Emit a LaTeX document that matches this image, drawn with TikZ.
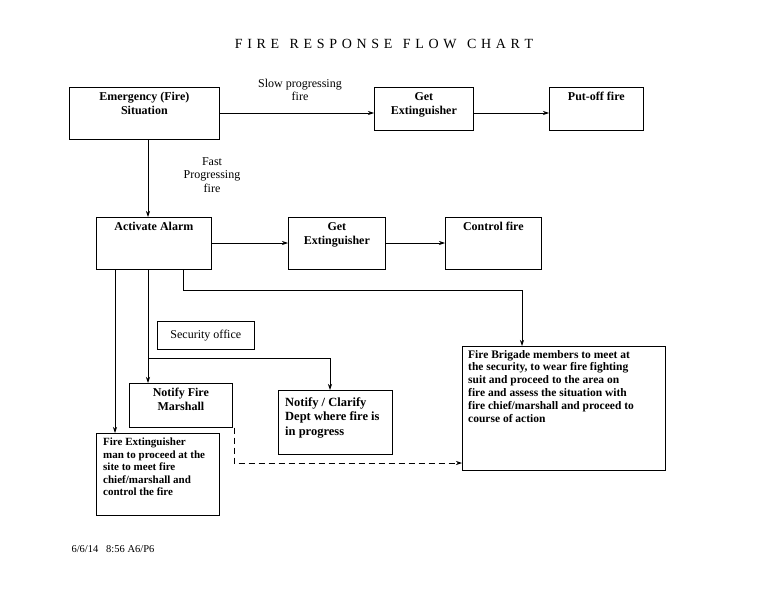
\documentclass[tikz,border=0pt]{standalone}
\usepackage{fontspec}
\setmainfont{Liberation Serif}
\usetikzlibrary{arrows.meta}
\begin{document}
\begin{tikzpicture}[x=1pt,y=-1pt,
  box/.style={draw,line width=0.7pt,anchor=north west,inner sep=0pt},
  txt/.style={font=\fontsize{12}{14}\selectfont\bfseries,align=center,anchor=north,inner sep=2pt},
  ltxt/.style={font=\fontsize{12}{14}\selectfont\bfseries,align=left,anchor=north west,inner sep=0pt},
  lab/.style={font=\fontsize{12}{13.5}\selectfont,align=center},
  arr/.style={-{Stealth[length=6pt,width=4pt]},line width=0.7pt}]
\useasboundingbox (0,0) rectangle (768,594);
\node[font=\fontsize{14}{16}\selectfont] (title) at (384,44) {F\,\,I\,\,R\,\,E\ \ \ R\,\,E\,\,S\,\,P\,\,O\,\,N\,\,S\,\,E\ \ \ F\,\,L\,\,O\,\,W\ \ \ C\,\,H\,\,A\,\,R\,\,T};
\node[box,minimum width=150pt,minimum height=52pt] (em) at (69,87) {};
\node[txt] (emt) at ([yshift=-3]em.north) {Emergency (Fire)\\Situation};
\node[box,minimum width=99pt,minimum height=43pt] (ge1) at (374,87) {};
\node[txt] (ge1t) at ([yshift=-3]ge1.north) {Get\\Extinguisher};
\node[box,minimum width=94pt,minimum height=43pt] (po) at (549,87) {};
\node[txt] (pot) at ([yshift=-3]po.north) {Put-off fire};
\node[box,minimum width=115pt,minimum height=52pt] (aa) at (96,217) {};
\node[txt] (aat) at ([yshift=-3]aa.north) {Activate Alarm};
\node[box,minimum width=97pt,minimum height=52pt] (ge2) at (288,217) {};
\node[txt] (ge2t) at ([yshift=-3]ge2.north) {Get\\Extinguisher};
\node[box,minimum width=96pt,minimum height=52pt] (cf) at (445,217) {};
\node[txt] (cft) at ([yshift=-3]cf.north) {Control fire};
\node[box,minimum width=97pt,minimum height=28pt] (so) at (157,321) {};
\node[lab] (sot) at (so.center) {Security office};
\node[box,minimum width=103pt,minimum height=44pt] (nm) at (129,383) {};
\node[txt] (nmt) at ([yshift=-3]nm.north) {Notify Fire\\Marshall};
\node[box,minimum width=114pt,minimum height=64pt] (nc) at (278,390) {};
\node[ltxt,font=\fontsize{12.5}{14.5}\selectfont\bfseries] (nct) at (285,397) {Notify / Clarify\\Dept where fire is\\in progress};
\node[box,minimum width=203pt,minimum height=124pt] (fb) at (462,346) {};
\node[ltxt,font=\fontsize{11.5}{12.8}\selectfont\bfseries] (fbt) at (468,350) {Fire Brigade members to meet at\\the security, to wear fire fighting\\suit and proceed to the area on\\fire and assess the situation with\\fire chief/marshall and proceed to\\course of action};
\node[box,minimum width=123pt,minimum height=82pt] (fe) at (96,433) {};
\node[ltxt,font=\fontsize{11}{12.5}\selectfont\bfseries] (fet) at (103,438) {Fire Extinguisher\\man to proceed at the\\site to meet fire\\chief/marshall and\\control the fire};
\node[font=\fontsize{10.5}{12}\selectfont,anchor=west] (foot) at (68,549) {6/6/14\ \ \ 8:56 A6/P6};
% connectors
\draw[arr] (em.east |- 0,113) -- (ge1.west |- 0,113);
\node[lab] (slow) at (300,90) {Slow progressing\\fire};
\draw[arr] (ge1.east |- 0,113) -- (po.west |- 0,113);
\draw[arr] (em.south -| 148,0) -- (aa.north -| 148,0);
\node[lab] (fast) at (212,175) {Fast\\Progressing\\fire};
\draw[arr] (aa.east |- 0,243) -- (ge2.west |- 0,243);
\draw[arr] (ge2.east |- 0,243) -- (cf.west |- 0,243);
\coordinate (c1) at (183,290);
\coordinate (c2) at (522,290);
\draw[arr] (aa.south -| c1) -- (c1) -- (c2) -- (fb.north -| c2);
\coordinate (j) at (148,358);
\coordinate (j2) at (330,358);
\draw[line width=0.7pt] (aa.south -| j) -- (j);
\draw[arr] (j) -- (nm.north -| j);
\draw[arr] (j) -- (j2) -- (nc.north -| j2);
\draw[arr] (aa.south -| 115,0) -- (fe.north -| 115,0);
\coordinate (d1) at (234,463);
\draw[arr,dashed,dash pattern=on 6pt off 4pt] (nm.south -| d1) -- (d1) -- (fb.west |- d1);
\end{tikzpicture}
\end{document}
